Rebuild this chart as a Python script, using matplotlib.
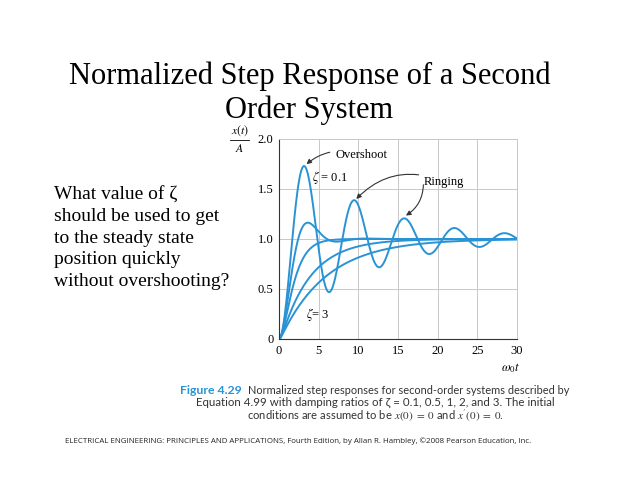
import numpy as np
import matplotlib
matplotlib.use("Agg")
import matplotlib.pyplot as plt

# damping ratios from the caption
zetas = [0.1, 0.5, 1.0, 2.0, 3.0]
x_ticks = [0, 5, 10, 15, 20, 25, 30]
y_ticks = [0, 0.5, 1.0, 1.5, 2.0]
y_tick_labels = ["0", "0.5", "1.0", "1.5", "2.0"]

blue = "#2a93d5"
serif = "Liberation Serif"
sans = ["Lato", "DejaVu Sans"]
plt.rcParams["mathtext.fontset"] = "stix"


def step_response(z, t):
    if z < 1:
        wd = np.sqrt(1 - z**2)
        return 1 - np.exp(-z * t) / wd * np.sin(wd * t + np.arccos(z))
    if z == 1:
        return 1 - (1 + t) * np.exp(-t)
    r1 = -z + np.sqrt(z**2 - 1)
    r2 = -z - np.sqrt(z**2 - 1)
    return 1 + (r2 * np.exp(r1 * t) - r1 * np.exp(r2 * t)) / (r1 - r2)


fig = plt.figure(figsize=(6.38, 4.93), dpi=100)

# slide title
fig.text(0.485, 0.811, "Normalized Step Response of a Second\nOrder System",
         ha="center", va="center", fontsize=22, family=serif,
         linespacing=1.18, color="black")

# question on the left
fig.text(0.085, 0.517, "What value of \u03b6\nshould be used to get\nto the steady state\n"
         "position quickly\nwithout overshooting?",
         ha="left", va="center", fontsize=14, family=serif,
         linespacing=1.34, color="black")

ax = fig.add_axes([0.4373, 0.3124, 0.3730, 0.4057])
t = np.linspace(0, 30, 1200)
for z in zetas:
    ax.plot(t, step_response(z, t), color=blue, lw=1.4)

ax.set_xlim(0, 30)
ax.set_ylim(0, 2.0)
ax.set_xticks(x_ticks)
ax.set_yticks(y_ticks)
ax.set_yticklabels(y_tick_labels)
ax.grid(True, color="#c8c8c8", lw=0.7)
ax.set_axisbelow(True)
ax.tick_params(length=0, labelsize=9, pad=4)
for lab in ax.get_xticklabels() + ax.get_yticklabels():
    lab.set_family(serif)
for s in ["top", "right"]:
    ax.spines[s].set_color("#c8c8c8")
    ax.spines[s].set_linewidth(0.7)
for s in ["left", "bottom"]:
    ax.spines[s].set_color("#333333")
    ax.spines[s].set_linewidth(0.8)

# axis labels
ax.text(-0.165, 1.005, "$x(t)$", transform=ax.transAxes, ha="center", va="bottom",
        fontsize=8.5)
ax.text(-0.165, 0.985, "$A$", transform=ax.transAxes, ha="center", va="top",
        fontsize=8.5)
ax.plot([-0.205, -0.125], [0.995, 0.995], transform=ax.transAxes, color="black",
        lw=0.6, clip_on=False)
ax.text(0.975, -0.11, "$\\omega_0 t$", transform=ax.transAxes, ha="center", va="top",
        fontsize=9)

# annotations
arrow = dict(arrowstyle="-|>", color="#333333", lw=0.8, mutation_scale=7)
ax.annotate("Overshoot", xy=(3.2, 1.73), xytext=(7.1, 1.84), fontsize=9,
            family=serif, va="center",
            arrowprops=dict(connectionstyle="arc3,rad=0.3", **arrow))
ax.text(4.1, 1.61, "$\\zeta$ = 0.1", fontsize=9, family=serif, va="center")
ax.annotate("Ringing", xy=(9.5, 1.38), xytext=(18.3, 1.57), fontsize=9,
            family=serif, va="center",
            arrowprops=dict(connectionstyle="arc3,rad=0.35", **arrow))
ax.annotate("", xy=(15.7, 1.22), xytext=(18.2, 1.57),
            arrowprops=dict(connectionstyle="arc3,rad=-0.3", **arrow))
ax.text(3.4, 0.24, "$\\zeta$= 3", fontsize=9, family=serif, va="center")

# caption
fig.text(0.282, 0.207, "Figure 4.29", fontsize=8.8, family=sans,
         fontweight="bold", color=blue, va="center")
fig.text(0.389, 0.207, "Normalized step responses for second-order systems described by",
         fontsize=7.9, family=sans, color="#333333", va="center")
fig.text(0.589, 0.183, "Equation 4.99 with damping ratios of \u03b6 = 0.1, 0.5, 1, 2, and 3. The initial",
         fontsize=8.3, family=sans, color="#333333", va="center", ha="center")
fig.text(0.589, 0.157, "conditions are assumed to be $x(0)\\;=\\;0$ and $x'(0)\\;=\\;0.$",
         fontsize=8.1, family=sans, color="#333333", va="center", ha="center")

# footer
fig.text(0.102, 0.105, "ELECTRICAL ENGINEERING: PRINCIPLES AND APPLICATIONS, Fourth Edition, "
         "by Allan R. Hambley, \u00a92008 Pearson Education, Inc.",
         fontsize=5.7, family="Open Sans", color="#222222", va="center")

fig.savefig("out.png", dpi=100, facecolor="white")
